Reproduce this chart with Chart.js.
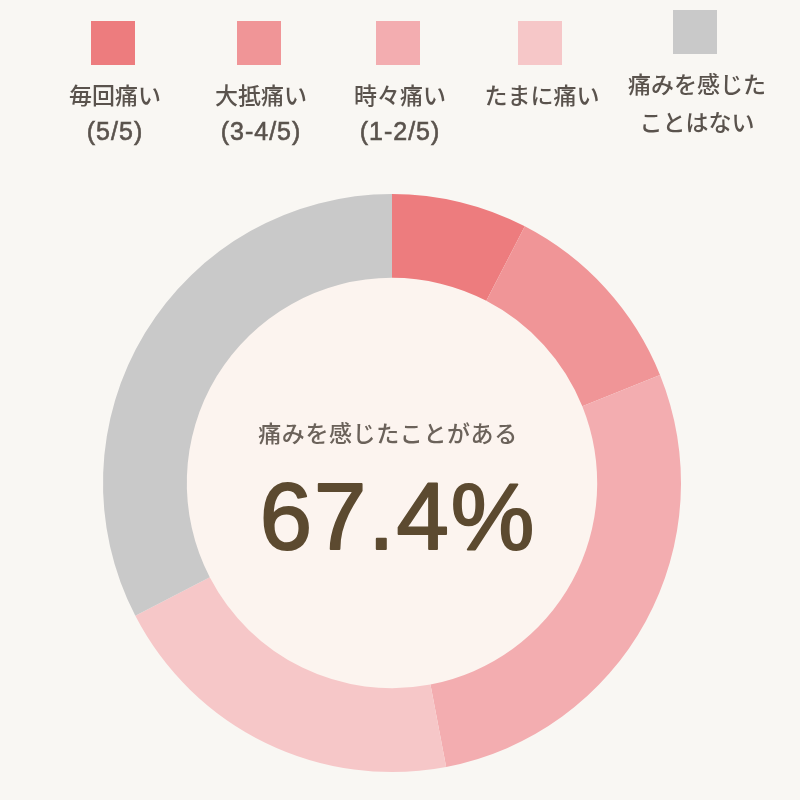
<!DOCTYPE html>
<html>
<head>
<meta charset="utf-8">
<script src="https://cdn.jsdelivr.net/npm/chart.js@4.4.1/dist/chart.umd.min.js"></script>
<style>
  html, body { margin: 0; padding: 0; background: #f9f7f3; }
  #wrap { width: 800px; height: 800px; position: relative; }
</style>
</head>
<body>
<div id="wrap"><canvas id="c" width="800" height="800"></canvas></div>
<script>
// ---- data ----
const categories = ["毎回痛い\n(5/5)", "大抵痛い\n(3-4/5)", "時々痛い\n(1-2/5)", "たまに痛い", "痛みを感じた\nことはない"];
const values = [7.6, 11.3, 28.1, 20.4, 32.6];
const colors = ["#ed7c7e", "#f09597", "#f3adb0", "#f6c7c8", "#c9c9c9"];
const centerLabel = "痛みを感じたことがある";
const centerValue = "67.4%";

// ---- styling ----
const legendCenters = [113, 259, 398, 540, 695];
const legendYOffset = [0, 0, 0, 0, -11];
const JP = '"Noto Sans CJK JP", "Noto Sans", sans-serif';
const LAT = '"Liberation Sans", Arial, sans-serif';

function isLatin(s) { return /^[\x00-\x7f]*$/.test(s); }

const legendPlugin = {
  id: 'customLegend',
  afterDraw(chart) {
    const ctx = chart.ctx;
    ctx.save();
    categories.forEach((lab, i) => {
      const cx = legendCenters[i];
      const dy = legendYOffset[i];
      ctx.fillStyle = colors[i];
      ctx.fillRect(cx - 22, 21 + dy, 44, 44);
      ctx.fillStyle = "#5a534d";
      ctx.strokeStyle = "#5a534d";
      ctx.textAlign = 'center';
      ctx.textBaseline = 'middle';
      lab.split("\n").forEach((line, j) => {
        const y = (j === 0 ? 95 : 133) + dy;
        if (isLatin(line)) {
          ctx.font = '25px ' + LAT;
          ctx.letterSpacing = '1px';
          ctx.lineWidth = 0.6;
          ctx.fillText(line, cx + 2, y);
          ctx.strokeText(line, cx + 2, y);
        } else {
          ctx.font = '500 23px ' + JP;
          ctx.letterSpacing = '0px';
          ctx.fillText(line, cx + 2, y);
        }
      });
    });
    ctx.restore();
  }
};

const centerPlugin = {
  id: 'centerText',
  beforeDatasetsDraw(chart) {
    const arc = chart.getDatasetMeta(0).data[0];
    const ctx = chart.ctx;
    ctx.save();
    ctx.beginPath();
    ctx.arc(arc.x, arc.y, arc.innerRadius + 1, 0, Math.PI * 2);
    ctx.fillStyle = "#fcf4ef";
    ctx.fill();
    ctx.restore();
  },
  afterDatasetsDraw(chart) {
    const arc = chart.getDatasetMeta(0).data[0];
    const ctx = chart.ctx;
    ctx.save();
    ctx.textAlign = 'center';
    ctx.textBaseline = 'middle';
    ctx.fillStyle = "#6b625a";
    ctx.font = '500 23px ' + JP;
    ctx.letterSpacing = '0.6px';
    ctx.fillText(centerLabel, arc.x - 4, arc.y - 50);
    ctx.fillStyle = "#5c4a30";
    ctx.strokeStyle = "#5c4a30";
    ctx.lineWidth = 2;
    ctx.lineJoin = 'round';
    ctx.letterSpacing = '2px';
    ctx.font = '94px ' + LAT;
    ctx.fillText(centerValue, arc.x + 6, arc.y + 40);
    ctx.strokeText(centerValue, arc.x + 6, arc.y + 40);
    ctx.restore();
  }
};

new Chart(document.getElementById('c'), {
  type: 'doughnut',
  data: {
    labels: categories,
    datasets: [{
      data: values,
      backgroundColor: colors,
      borderWidth: 0
    }]
  },
  options: {
    responsive: false,
    animation: false,
    cutout: '71%',
    layout: { padding: { left: 103, right: 119, top: 194, bottom: 28 } },
    plugins: {
      legend: { display: false },
      tooltip: { enabled: false }
    }
  },
  plugins: [centerPlugin, legendPlugin]
});
</script>
</body>
</html>
